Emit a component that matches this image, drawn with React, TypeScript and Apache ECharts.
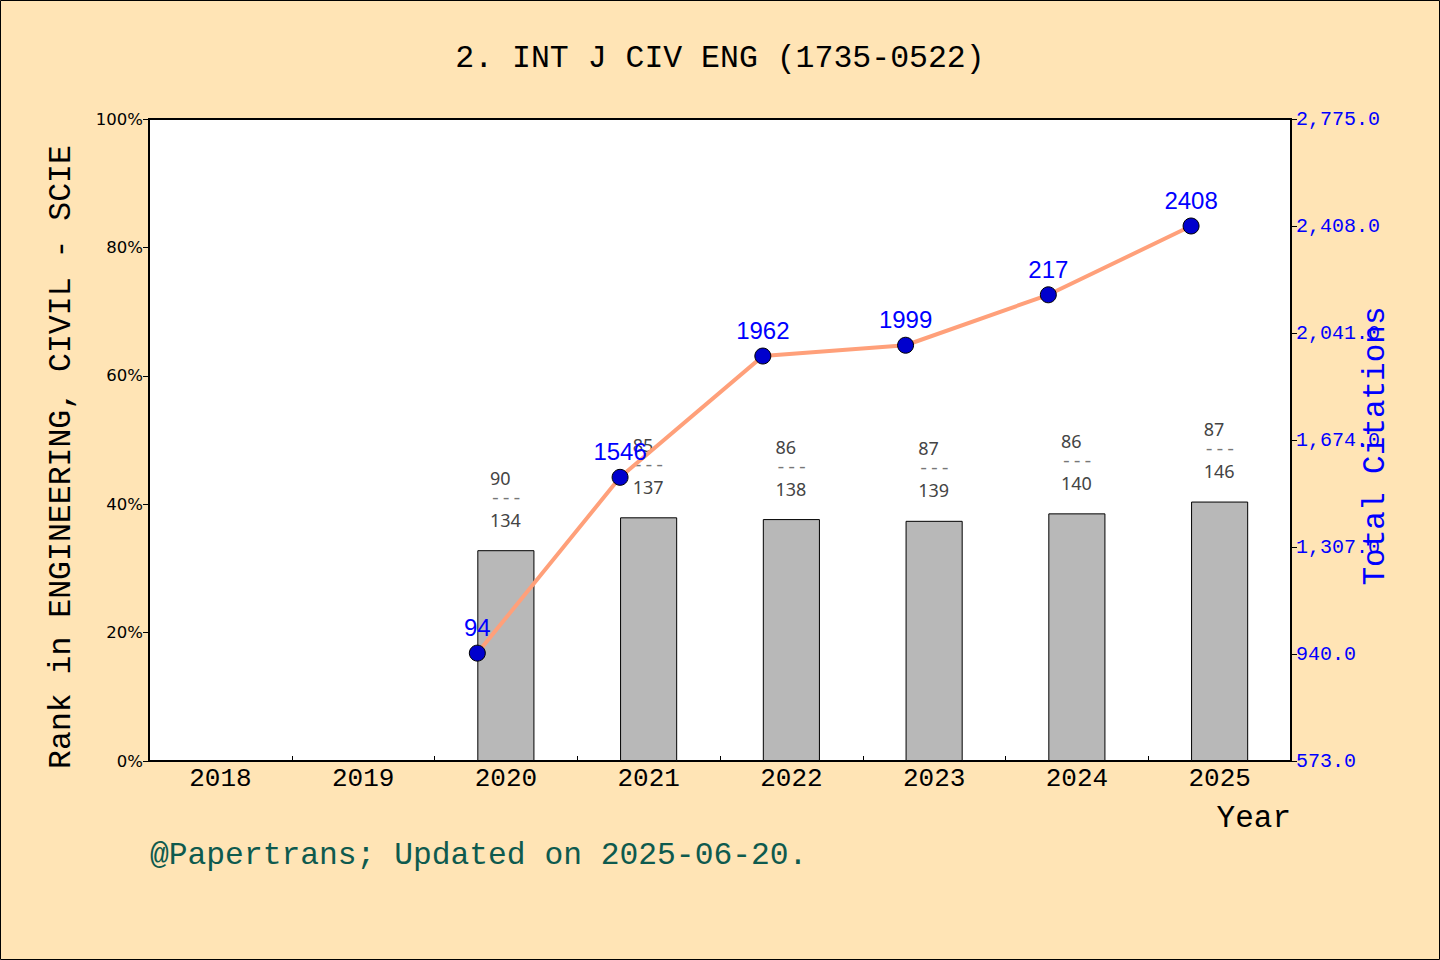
import React, { useEffect, useRef } from "react";
import * as echarts from "echarts";

const years = ["2018", "2019", "2020", "2021", "2022", "2023", "2024", "2025"];
const ranks: (number | null)[] = [null, null, 90, 85, 86, 87, 86, 87];
const totals: (number | null)[] = [null, null, 134, 137, 138, 139, 140, 146];
const citationYears = [2020, 2021, 2022, 2023, 2024, 2025];
const citations = [943, 1546, 1962, 1999, 2172, 2408];
const citationLabels = ["94", "1546", "1962", "1999", "217", "2408"];
const leftTicks = [0, 20, 40, 60, 80, 100];
const rightMin = 573;
const rightMax = 2775;
const rightInterval = 367;

const MONO = "'Liberation Mono', 'DejaVu Sans Mono', monospace";

export default function App() {
  const ref = useRef<HTMLDivElement>(null);
  useEffect(() => {
    document.body.style.margin = "0";
    const chart = echarts.init(ref.current!, null, { renderer: "svg" });
    const barData = ranks.map((r, i) => {
      const t = totals[i];
      if (r == null || t == null) return null;
      return { value: (1 - r / t) * 100, rank: r, total: t };
    });
    chart.setOption({
      animation: false,
      backgroundColor: "#FFE4B5",
      title: {
        text: "2. INT J CIV ENG (1735-0522)",
        left: "center",
        top: 37,
        textStyle: { fontFamily: MONO, fontSize: 31.5, fontWeight: "normal", color: "#000" },
      },
      grid: {
        left: 149,
        right: 149,
        top: 119,
        bottom: 199,
        show: true,
        backgroundColor: "#fff",
        borderColor: "#000",
        borderWidth: 2,
      },
      xAxis: [
        {
          type: "category",
          data: years,
          boundaryGap: true,
          name: "Year",
          nameLocation: "end",
          nameGap: 0,
          nameTextStyle: {
            fontFamily: MONO,
            fontSize: 31,
            color: "#000",
            align: "right",
            verticalAlign: "top",
            padding: [42, 0, 0, 0],
          },
          axisLine: { lineStyle: { color: "#000", width: 2 } },
          axisTick: { show: true, inside: true, length: 5, lineStyle: { color: "#000" } },
          axisLabel: { fontFamily: MONO, fontSize: 26, color: "#000", margin: 5 },
        },
        {
          type: "value",
          show: false,
          min: 2017.7,
          max: 2025.7,
        },
      ],
      yAxis: [
        {
          type: "value",
          min: leftTicks[0],
          max: leftTicks[leftTicks.length - 1],
          interval: 20,
          name: "Rank in ENGINEERING, CIVIL - SCIE",
          nameLocation: "middle",
          nameGap: 72,
          nameRotate: 90,
          nameMoveOverlap: false,
          nameTextStyle: { fontFamily: MONO, fontSize: 31.5, color: "#000", padding: [0, 34, 0, 0] },
          axisLine: { show: true, lineStyle: { color: "#000", width: 2 } },
          axisTick: { show: true, length: 6, lineStyle: { color: "#000" } },
          axisLabel: {
            fontFamily: "'DejaVu Sans', sans-serif",
            fontSize: 16.5,
            color: "#000",
            margin: 6,
            formatter: (v: number) => v + "%",
          },
          splitLine: { show: false },
        },
        {
          type: "value",
          position: "right",
          min: rightMin,
          max: rightMax,
          interval: rightInterval,
          name: "Total Citations",
          nameLocation: "middle",
          nameGap: 69,
          nameRotate: 90,
          nameMoveOverlap: false,
          nameTextStyle: { fontFamily: MONO, fontSize: 31, color: "#0000FF", padding: [0, 12, 0, 0] },
          axisLine: { show: true, lineStyle: { color: "#000", width: 2 } },
          axisTick: { show: true, length: 6, lineStyle: { color: "#000" } },
          axisLabel: {
            fontFamily: MONO,
            fontSize: 20,
            color: "#0000FF",
            margin: 5,
            formatter: (v: number) =>
              v.toLocaleString("en-US", { minimumFractionDigits: 1, maximumFractionDigits: 1 }),
          },
          splitLine: { show: false },
        },
      ],
      series: [
        {
          type: "bar",
          xAxisIndex: 0,
          yAxisIndex: 0,
          data: barData,
          barWidth: "40%",
          itemStyle: { color: "#B8B8B8", borderColor: "#000", borderWidth: 1 },
          label: {
            show: true,
            position: "top",
            distance: 20,
            align: "left",
            offset: [-16, 0],
            color: "#444",
            formatter: (p: any) => `{n|${p.data.rank}}\n{d|---}\n{n|${p.data.total}}`,
            rich: {
              n: {
                fontFamily: "'Noto Sans', sans-serif",
                fontSize: 18,
                lineHeight: 21,
                color: "#444",
              },
              d: {
                fontFamily: MONO,
                fontSize: 18,
                lineHeight: 21,
                color: "#777",
              },
            },
          },
          z: 2,
        },
        {
          type: "line",
          xAxisIndex: 1,
          yAxisIndex: 1,
          data: citationYears.map((y, i) => [y, citations[i]]),
          lineStyle: { color: "#FFA07A", width: 4 },
          symbol: "circle",
          symbolSize: 16,
          itemStyle: { color: "#0000CD", borderColor: "#000", borderWidth: 1 },
          label: {
            show: true,
            position: "top",
            distance: 5,
            fontFamily: "'Liberation Sans', sans-serif",
            fontSize: 24,
            color: "#0000FF",
            formatter: (p: any) => citationLabels[p.dataIndex],
          },
          z: 5,
        },
      ],
      graphic: [
        {
          type: "text",
          left: 150,
          top: 840,
          style: {
            text: "@Papertrans; Updated on 2025-06-20.",
            font: `31.3px ${MONO}`,
            fill: "#0E5A4E",
          },
        },
        {
          type: "rect",
          shape: { x: 0.5, y: 0.5, width: 1439, height: 959 },
          style: { fill: "none", stroke: "#000", lineWidth: 1 },
          silent: true,
        },
      ],
    });
    return () => chart.dispose();
  }, []);
  return <div ref={ref} style={{ width: 1440, height: 960 }} />;
}
